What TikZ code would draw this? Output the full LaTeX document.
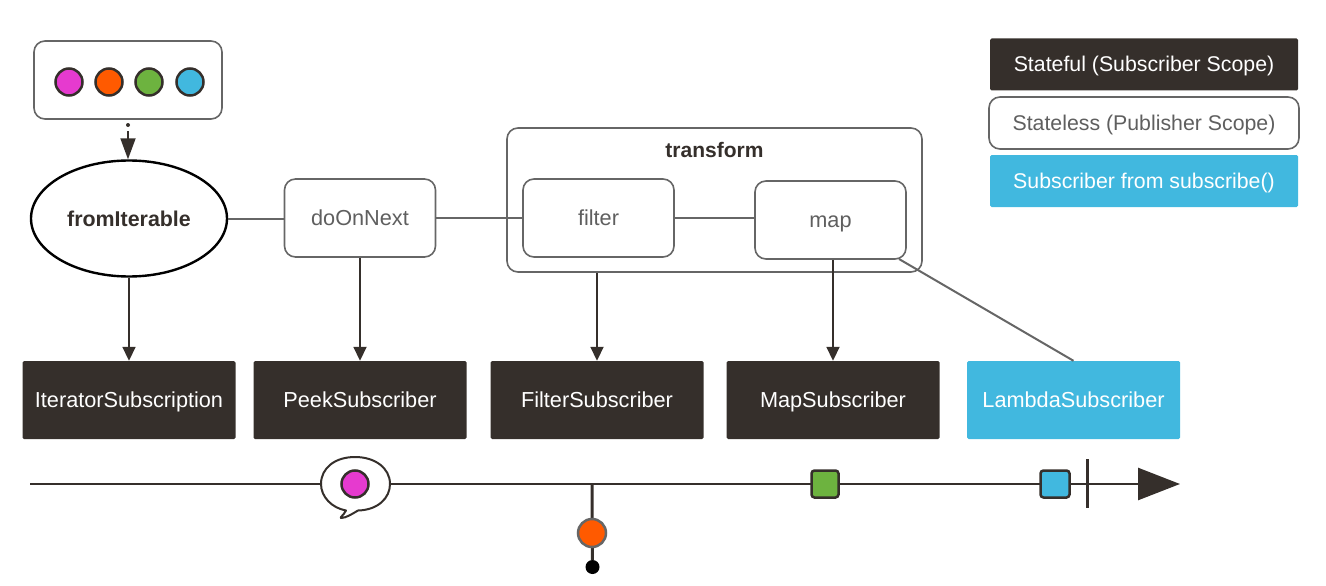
\documentclass[tikz,border=0pt]{standalone}
\usepackage{fontspec}
\setmainfont{Liberation Sans}
\usetikzlibrary{arrows.meta,shapes.geometric}
\definecolor{darkBox}{HTML}{352F2B}
\definecolor{lineGrey}{HTML}{666666}
\definecolor{textGrey}{HTML}{5F5F5F}
\definecolor{skyBlue}{HTML}{41B8DF}
\definecolor{dotPink}{HTML}{E63ACF}
\definecolor{dotOrange}{HTML}{FF5A00}
\definecolor{dotGreen}{HTML}{6DB33F}
\tikzset{
	every node/.style={font=\fontsize{21.7}{24}\selectfont, text height=17.5pt, text depth=2.5pt},
	roundBox/.style={draw=lineGrey, line width=1.6pt, rounded corners=11pt, fill=white, text=textGrey, inner sep=0pt},
	subBox/.style={fill=darkBox, text=white, rounded corners=1.5pt, minimum width=213pt, minimum height=78pt, inner sep=0pt},
	lambdaBox/.style={fill=skyBlue, text=white, rounded corners=1.5pt, minimum width=213pt, minimum height=78pt, inner sep=0pt},
	legendBox/.style={minimum width=308pt, minimum height=52pt, font=\fontsize{21.3}{24}\selectfont},
	dot/.style={circle, draw=darkBox, line width=2.5pt, minimum size=27pt, inner sep=0pt},
	marble/.style={rectangle, rounded corners=3pt, draw=darkBox, line width=2.5pt, minimum size=27pt, inner sep=0pt},
	link/.style={draw=lineGrey, line width=2pt},
	toSub/.style={draw=darkBox, line width=1.8pt, -{Triangle[length=14pt,width=13pt]}},
}
\begin{document}
\begin{tikzpicture}[x=1pt, y=-1pt]
	\useasboundingbox (0,0) rectangle (1326,586);

%source of the four values
	\node[roundBox, minimum width=188pt, minimum height=78pt] (source) at (128,80) {};
	\node[dot, fill=dotPink] (dotOne) at (69,82) {};
	\node[dot, fill=dotOrange] (dotTwo) at (109,82) {};
	\node[dot, fill=dotGreen] (dotThree) at (149,82) {};
	\node[dot, fill=skyBlue] (dotFour) at (190,82) {};

%operators
	\node[ellipse, draw=black, line width=2.4pt, fill=white, minimum width=196pt, minimum height=116pt, inner sep=0pt, font=\fontsize{21.4}{24}\selectfont\bfseries, text=darkBox] (fromIterable) at (129,218.5) {fromIterable};
	\node[roundBox, minimum width=151pt, minimum height=78pt] (doOnNext) at (360,218) {doOnNext};
	\node[roundBox, minimum width=415pt, minimum height=144pt] (transform) at (714.5,200) {};
	\node[font=\fontsize{21}{24}\selectfont\bfseries, text=darkBox] (transformLabel) at (714.5,150) {transform};
	\node[roundBox, minimum width=151pt, minimum height=78pt] (filter) at (598.5,218) {filter};
	\node[roundBox, minimum width=151pt, minimum height=78pt] (map) at (830.5,220) {map};

%subscribers
	\node[subBox] (subIterator) at (129,400) {IteratorSubscription};
	\node[subBox] (subPeek) at (360,400) {PeekSubscriber};
	\node[subBox] (subFilter) at (597,400) {FilterSubscriber};
	\node[subBox] (subMap) at (833,400) {MapSubscriber};
	\node[lambdaBox] (subLambda) at (1073.5,400) {LambdaSubscriber};

%legend
	\node[subBox, legendBox] (legendStateful) at (1144,64.5) {Stateful (Subscriber Scope)};
	\node[roundBox, legendBox, minimum width=310pt] (legendStateless) at (1144,123) {Stateless (Publisher Scope)};
	\node[lambdaBox, legendBox] (legendBlue) at (1144,181) {Subscriber from subscribe()};

%connectors
	\coordinate (sourceGap) at (128,125);
	\fill[darkBox] (sourceGap) circle (2pt);
	\coordinate (arrowStart) at (128,131);
	\draw[draw=darkBox, line width=1.8pt, -{Triangle[length=21pt,width=15pt]}] (arrowStart) -- (arrowStart |- fromIterable.north);
	\draw[link] (fromIterable.east) -- (fromIterable.east -| doOnNext.west);
	\draw[link] (doOnNext.east) -- (filter.west);
	\draw[link, line width=1.6pt] (filter.east) -- (filter.east -| map.west);
	\draw[toSub] (fromIterable.south) -- (subIterator.north);
	\draw[toSub] (doOnNext.south) -- (subPeek.north);
	\draw[toSub] (transform.south -| subFilter.north) -- (subFilter.north);
	\draw[toSub] (map.south -| subMap.north) -- (subMap.north);
	\coordinate (mapCorner) at (899,259);
	\draw[link] (mapCorner) -- (subLambda.north);

%timeline
	\coordinate (lineStart) at (30,484);
	\coordinate (lineEnd) at (1180,484);
	\draw[draw=darkBox, line width=2.6pt, -{Triangle[length=42pt,width=32pt]}] (lineStart) -- (lineEnd);
	\coordinate (tickTop) at (1087,459);
	\coordinate (tickBottom) at (1087,508);
	\draw[draw=darkBox, line width=3pt] (tickTop) -- (tickBottom);

%speech bubble
	\draw[draw=darkBox, line width=2pt, fill=white, line join=round]
		(346,510.5) .. controls (343,516) and (340,517) .. (341,518)
		.. controls (346,518) and (352,514) .. (358,510.5)
		.. controls (378,510) and (390,498) .. (390,484)
		.. controls (390,468) and (375,457) .. (355,457)
		.. controls (335,457) and (321,468) .. (321,484)
		.. controls (321,497) and (332,508) .. (346,510.5) -- cycle;
	\node[dot, fill=dotPink] (marblePink) at (355,484) {};

%error drop
	\coordinate (dropTop) at (592,484);
	\node[circle, fill=black, minimum size=14pt, inner sep=0pt, text height=0pt, text depth=0pt] (dropEnd) at (592.5,567) {};
	\draw[draw=darkBox, line width=3pt] (dropTop) -- (dropEnd);
	\node[dot, fill=dotOrange, minimum size=28pt, draw=lineGrey] (marbleOrange) at (592,533) {};

	\node[marble, fill=dotGreen] (marbleGreen) at (825,484) {};
	\node[marble, fill=skyBlue, minimum width=29pt] (marbleBlue) at (1055,484) {};
\end{tikzpicture}
\end{document}
